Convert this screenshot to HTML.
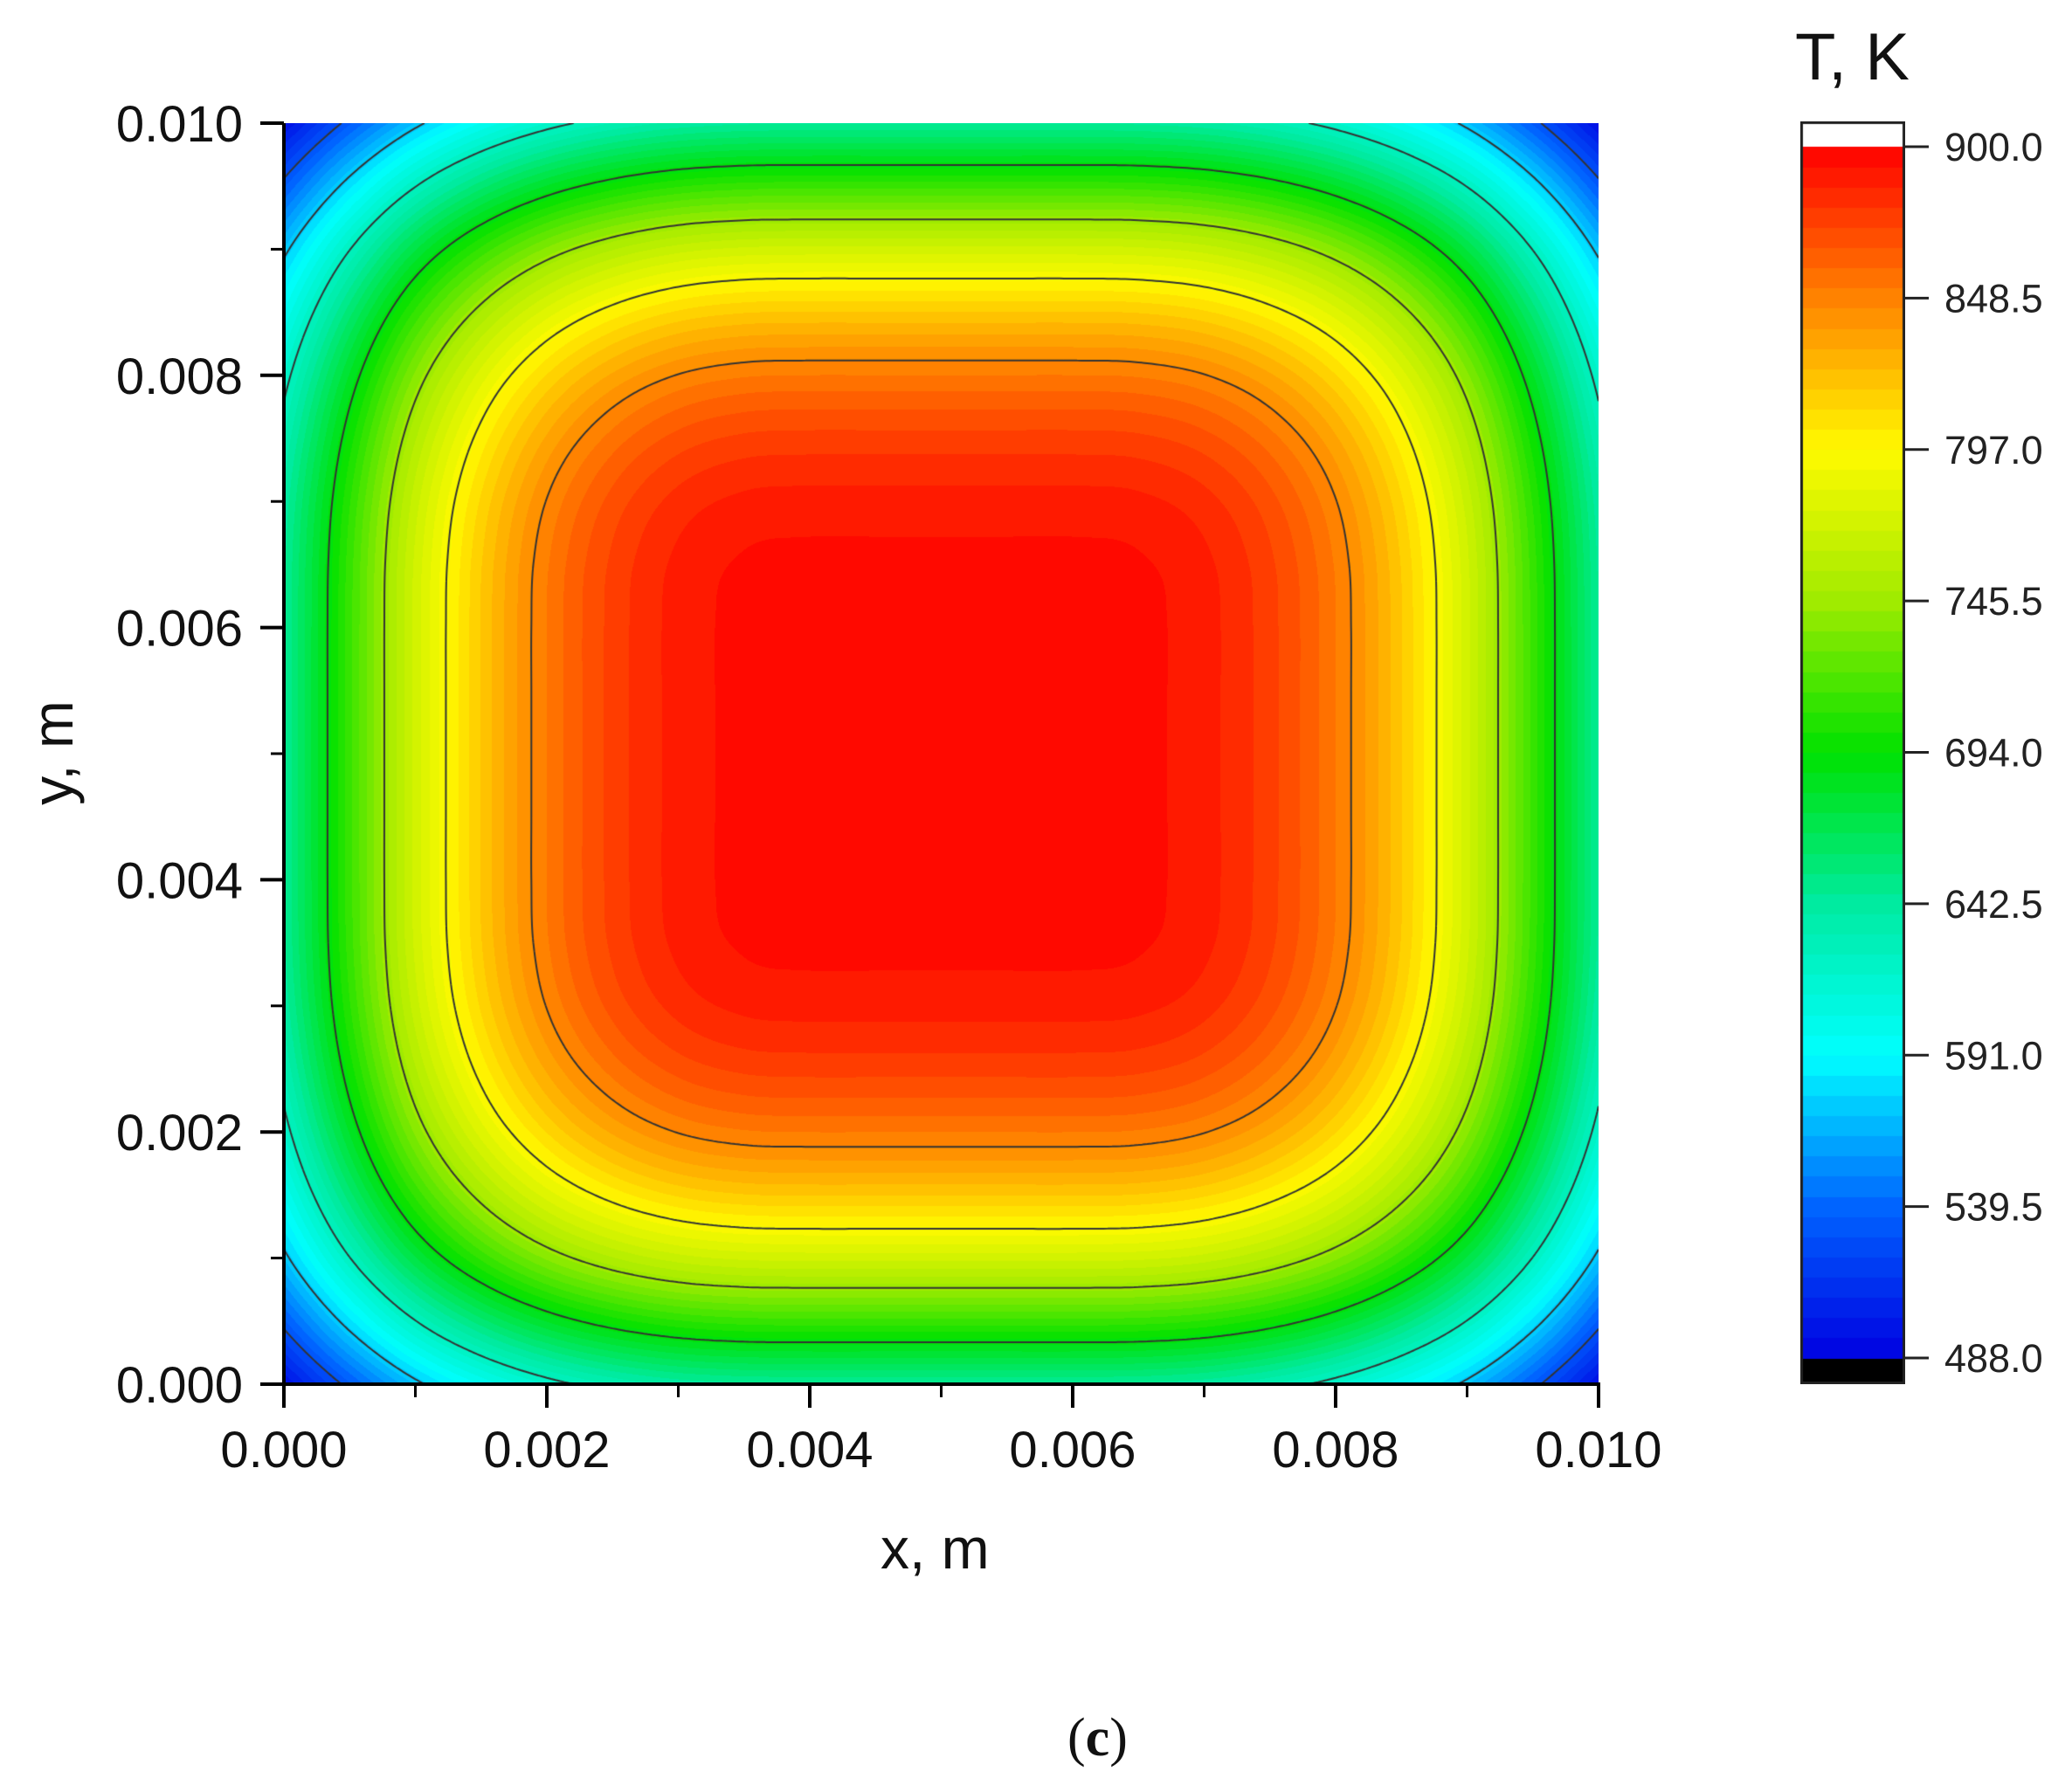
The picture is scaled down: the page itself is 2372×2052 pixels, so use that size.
<!DOCTYPE html>
<html><head><meta charset="utf-8">
<style>
body{margin:0;background:#fff;width:2372px;height:2052px;position:relative;overflow:hidden;font-family:"Liberation Sans",sans-serif}
.t{position:absolute;color:#111;white-space:nowrap}
</style></head>
<body>
<canvas id="map" width="1505" height="1444" style="position:absolute;left:325px;top:141px"></canvas>
<canvas id="bar" width="120" height="1446" style="position:absolute;left:2061px;top:139px"></canvas>
<svg id="ax" width="2372" height="2052" style="position:absolute;left:0;top:0"></svg>
<div class="t" style="left:2055px;top:22px;font-size:76px">T, K</div>
<div class="t" style="left:1008px;top:1735px;font-size:66px">x, m</div>
<div class="t" style="left:60px;top:862px;font-size:66px;transform:translate(-50%,-50%) rotate(-90deg)">y, m</div>
<div class="t" style="left:1222px;top:1955px;font-size:62px;font-family:'Liberation Serif',serif">(<b>c</b>)</div>
<script>
// Temperature profile along the midline (s = fraction of width from edge, 0..0.5)
const profS=[0,0.05,0.1,0.15,0.2,0.25,0.3,0.35,0.4,0.45,0.5];
const profT=[645,712,772,818,852,875,889,895,896,896,896];
const tBase=270;
const contourLevels=[530,575,625,690,745,795,845];
const barTicks=[900.0,848.5,797.0,745.5,694.0,642.5,591.0,539.5,488.0];
const xTicks=["0.000","0.002","0.004","0.006","0.008","0.010"];
const yTicks=["0.000","0.002","0.004","0.006","0.008","0.010"];
const cmapT=[488,539.5,591,642.5,694,745.5,797,848.5,900];
const cmapC=[[0,0,225],[0,100,255],[0,255,255],[0,235,160],[0,225,0],[160,235,0],[255,250,0],[255,130,0],[255,0,0]];

const X0=325,X1=1830,Y0=141,Y1=1585;
const xs=v=>X0+(v/0.01)*(X1-X0);
const ys=v=>Y1-(v/0.01)*(Y1-Y0);
const tc=profT[profT.length-1];
function prof(s){s=Math.min(s,1-s);const n=profS.length;
 for(let i=1;i<n;i++){if(s<=profS[i]){const t=(s-profS[i-1])/(profS[i]-profS[i-1]);
  const p0=profT[Math.max(i-2,0)],p1=profT[i-1],p2=profT[i],p3=profT[Math.min(i+1,n-1)];
  const m1=(p2-(i-2>=0?p0:2*p1-p2))/2,m2=(p3-p1)/2;
  const t2=t*t,t3=t2*t;
  return (2*t3-3*t2+1)*p1+(t3-2*t2+t)*m1+(-2*t3+3*t2)*p2+(t3-t2)*m2;}}return tc;}
function field(sx,sy){const fx=(prof(sx)-tBase)/(tc-tBase),fy=(prof(sy)-tBase)/(tc-tBase);return tBase+(tc-tBase)*fx*fy;}
function color(T,nb){
 if(T<cmapT[0])return[0,0,0]; if(T>cmapT[cmapT.length-1])return[255,255,255];
 const step=(900-488)/nb;T=488+Math.floor((T-488)/step+1e-9)*step+step/2;
 for(let i=1;i<cmapT.length;i++){if(T<=cmapT[i]){const f=(T-cmapT[i-1])/(cmapT[i]-cmapT[i-1]);return cmapC[i].map((c,k)=>Math.round(cmapC[i-1][k]+f*(c-cmapC[i-1][k])));}}
 return cmapC[cmapC.length-1];}
const mc=document.getElementById('map'),mx=mc.getContext('2d');
const W=mc.width,H=mc.height,img=mx.createImageData(W,H);
for(let j=0;j<H;j++)for(let i=0;i<W;i++){const c=color(field((i+.5)/W,1-(j+.5)/H),60);const p=(j*W+i)*4;img.data[p]=c[0];img.data[p+1]=c[1];img.data[p+2]=c[2];img.data[p+3]=255;}
mx.putImageData(img,0,0);
// contours via marching squares
const N=300;const g=[];for(let j=0;j<=N;j++){g.push([]);for(let i=0;i<=N;i++)g[j].push(field(i/N,j/N));}
mx.strokeStyle='#333';mx.lineWidth=2;
contourLevels.forEach(L=>{mx.beginPath();
 for(let j=0;j<N;j++)for(let i=0;i<N;i++){
  const v=[g[j][i],g[j][i+1],g[j+1][i+1],g[j+1][i]];const P=[[i,j],[i+1,j],[i+1,j+1],[i,j+1]];const pts=[];
  for(let k=0;k<4;k++){const a=v[k],b=v[(k+1)%4];if((a<L)!==(b<L)){const f=(L-a)/(b-a);const pa=P[k],pb=P[(k+1)%4];pts.push([pa[0]+f*(pb[0]-pa[0]),pa[1]+f*(pb[1]-pa[1])]);}}
  for(let k=0;k+1<pts.length;k+=2){mx.moveTo(pts[k][0]/N*W,H-pts[k][1]/N*H);mx.lineTo(pts[k+1][0]/N*W,H-pts[k+1][1]/N*H);}
 }mx.stroke();});
// colorbar
const bc=document.getElementById('bar'),bx=bc.getContext('2d');
const by=t=>(168-139)+(900-t)/(900-488)*(1555-168);
for(let y=0;y<bc.height;y++){const t=900-(y-(168-139))/(1555-168)*(900-488);const c=color(t,60);bx.fillStyle=`rgb(${c})`;bx.fillRect(0,y,120,1);}
bx.strokeStyle='#222';bx.lineWidth=3;bx.strokeRect(1.5,1.5,117,bc.height-3);
// axes svg
const svg=document.getElementById('ax');const NS='http://www.w3.org/2000/svg';
function el(tag,at,txt){const e=document.createElementNS(NS,tag);for(const k in at)e.setAttribute(k,at[k]);if(txt!==undefined)e.textContent=txt;svg.appendChild(e);return e;}
let e=el('line',{x1:X0,y1:Y0,x2:X0,y2:Y1+1,stroke:'#000','stroke-width':4});


e=el('line',{x1:X0-2,y1:Y1,x2:X1+2,y2:Y1,stroke:'#000','stroke-width':4});


xTicks.forEach((lab,i)=>{const v=i*0.002,x=xs(v);
 el('line',{x1:x,y1:Y1,x2:x,y2:Y1+27,stroke:'#000','stroke-width':4});
 if(i<xTicks.length-1){const xm=xs(v+0.001);el('line',{x1:xm,y1:Y1,x2:xm,y2:Y1+15,stroke:'#000','stroke-width':3});}
 const t=el('text',{x:x,y:1680,'font-size':58,'text-anchor':'middle',fill:'#111','font-family':'Liberation Sans'},lab);
 
 });
yTicks.forEach((lab,i)=>{const v=i*0.002,y=ys(v);
 el('line',{x1:X0-27,y1:y,x2:X0,y2:y,stroke:'#000','stroke-width':4});
 if(i<yTicks.length-1){const ym=ys(v+0.001);el('line',{x1:X0-15,y1:ym,x2:X0,y2:ym,stroke:'#000','stroke-width':3});}
 const t=el('text',{x:278,y:y+21,'font-size':58,'text-anchor':'end',fill:'#111','font-family':'Liberation Sans'},lab);
 
 });
barTicks.forEach(v=>{const y=139+by(v);
 el('line',{x1:2181,y1:y,x2:2208,y2:y,stroke:'#222','stroke-width':3});
 const t=el('text',{x:2226,y:y+16,'font-size':45,fill:'#222','font-family':'Liberation Sans'},v.toFixed(1));
 
 });
</script>
</body></html>
